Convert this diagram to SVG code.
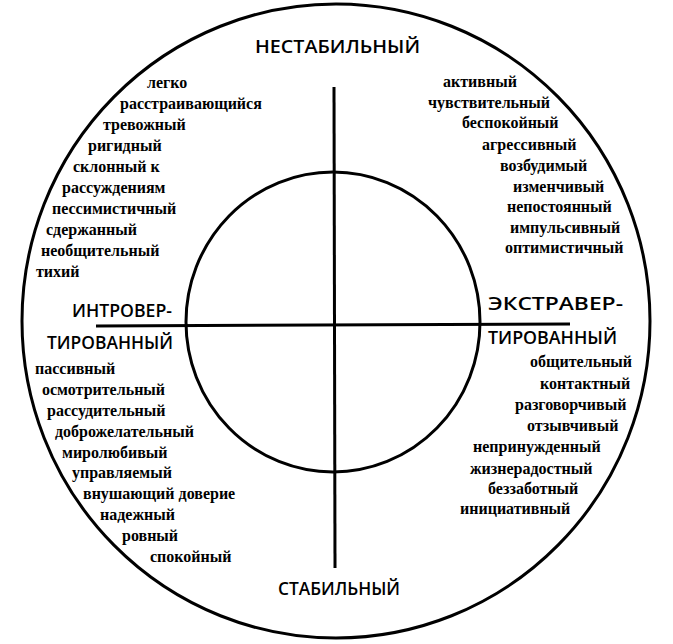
<svg xmlns="http://www.w3.org/2000/svg" width="673" height="644" viewBox="0 0 673 644">
<style>
.ln{fill:none;stroke:#000;stroke-width:3}
.h{font-family:"Open Sans","Liberation Sans",Arial,sans-serif;font-weight:600;font-size:18.5px;fill:#000}
.t{font-family:"Liberation Serif","Times New Roman",serif;font-weight:bold;font-size:16px;fill:#000}
</style>
<rect width="673" height="644" fill="#fff"/>
<g id="circles">
<ellipse class="ln" cx="336" cy="321" rx="314" ry="317"/>
<ellipse class="ln" cx="333" cy="322" rx="147" ry="150"/>
</g>
<g id="axes">
<line class="ln" x1="334" y1="87" x2="335" y2="568"/>
<line class="ln" x1="96" y1="326" x2="570" y2="324"/>
</g>
<g id="unstable">
<text class="h" x="255" y="53" textLength="165" lengthAdjust="spacingAndGlyphs">НЕСТАБИЛЬНЫЙ</text>
</g>
<g id="stable">
<text class="h" x="278" y="595" textLength="122" lengthAdjust="spacingAndGlyphs">СТАБИЛЬНЫЙ</text>
</g>
<g id="introverted">
<text class="h" x="72" y="317" textLength="100" lengthAdjust="spacingAndGlyphs">ИНТРОВЕР-</text>
<text class="h" x="47" y="349" textLength="126" lengthAdjust="spacingAndGlyphs">ТИРОВАННЫЙ</text>
</g>
<g id="extraverted">
<text class="h" x="488" y="310" textLength="135" lengthAdjust="spacingAndGlyphs">ЭКСТРАВЕР-</text>
<text class="h" x="488" y="344" textLength="129" lengthAdjust="spacingAndGlyphs">ТИРОВАННЫЙ</text>
</g>
<g id="q-upper-left">
<text class="t" x="147" y="88">легко</text>
<text class="t" x="120" y="109">расстраивающийся</text>
<text class="t" x="103" y="130">тревожный</text>
<text class="t" x="88" y="151">ригидный</text>
<text class="t" x="73" y="172">склонный к</text>
<text class="t" x="62" y="193">рассуждениям</text>
<text class="t" x="52" y="214">пессимистичный</text>
<text class="t" x="46" y="235">сдержанный</text>
<text class="t" x="41" y="256">необщительный</text>
<text class="t" x="36" y="277">тихий</text>
</g>
<g id="q-upper-right">
<text class="t" x="443" y="87">активный</text>
<text class="t" x="428" y="108">чувствительный</text>
<text class="t" x="462" y="128">беспокойный</text>
<text class="t" x="482" y="150">агрессивный</text>
<text class="t" x="500" y="171">возбудимый</text>
<text class="t" x="513" y="192">изменчивый</text>
<text class="t" x="507" y="212">непостоянный</text>
<text class="t" x="510" y="233">импульсивный</text>
<text class="t" x="505" y="253">оптимистичный</text>
</g>
<g id="q-lower-left">
<text class="t" x="35" y="374">пассивный</text>
<text class="t" x="42" y="395">осмотрительный</text>
<text class="t" x="47" y="416">рассудительный</text>
<text class="t" x="55" y="437">доброжелательный</text>
<text class="t" x="62" y="458">миролюбивый</text>
<text class="t" x="72" y="478">управляемый</text>
<text class="t" x="83" y="499">внушающий доверие</text>
<text class="t" x="100" y="520">надежный</text>
<text class="t" x="122" y="541">ровный</text>
<text class="t" x="150" y="562">спокойный</text>
</g>
<g id="q-lower-right">
<text class="t" x="530" y="367">общительный</text>
<text class="t" x="540" y="389">контактный</text>
<text class="t" x="515" y="410">разговорчивый</text>
<text class="t" x="527" y="431">отзывчивый</text>
<text class="t" x="473" y="452">непринужденный</text>
<text class="t" x="470" y="474">жизнерадостный</text>
<text class="t" x="488" y="494">беззаботный</text>
<text class="t" x="460" y="514">инициативный</text>
</g>
</svg>
